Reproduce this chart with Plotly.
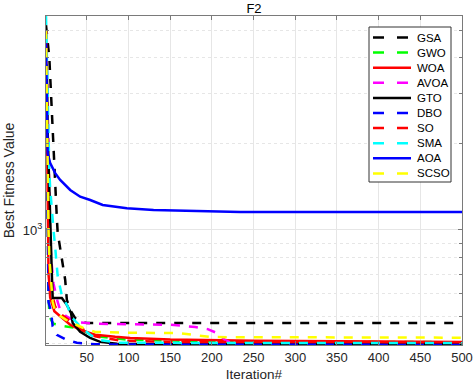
import plotly.graph_objects as go
import math

# ---------------- data ----------------
names = ["GSA", "GWO", "WOA", "AVOA", "GTO", "DBO", "SO", "SMA", "AOA", "SCSO"]
colors = ["#000000", "#00ff00", "#ff0000", "#ff00ff", "#000000",
          "#0000ff", "#ff0000", "#00ffff", "#0000ff", "#ffff00"]
dashes = ["dash", "dash", "solid", "dash", "solid",
          "dash", "dash", "dash", "solid", "dash"]

gsa_iter = [1, 5, 8, 9, 10, 11, 12, 14, 15, 18, 21, 24, 26, 30, 36, 44, 50, 500]
gsa_val = [5200, 4000, 2600, 2250, 1800, 1500, 1300, 1100, 980, 850, 760, 670, 570, 525, 492, 477, 473, 473]

gwo_iter = [1, 2, 3, 4, 5, 7, 10, 20, 35, 45, 60, 100, 200, 500]
gwo_val = [5000, 2500, 1000, 600, 510, 485, 470, 462, 455, 445, 425, 413, 408, 405]

woa_iter = [1, 2, 3, 4, 5, 6, 11, 20, 30, 42, 60, 84, 102, 150, 250, 500]
woa_val = [5000, 2000, 1000, 700, 650, 580, 520, 495, 466, 447, 430, 423, 419, 414, 410, 406]

avoa_iter = [1, 3, 4, 5, 6, 8, 10, 15, 18, 25, 38, 60, 100, 150, 180, 195, 206, 216, 228, 500]
avoa_val = [5000, 3000, 2000, 1200, 900, 750, 650, 560, 525, 500, 476, 470, 468, 466, 458, 450, 436, 412, 397, 396]

gto_iter = [1, 2, 3, 6, 8, 9, 20, 26, 31, 33, 42, 54, 66, 86, 500]
gto_val = [3800, 3700, 2200, 1000, 700, 578, 578, 547, 513, 473, 440, 419, 406, 400, 399]

dbo_iter = [1, 2, 3, 4, 7, 9, 14, 26, 38, 60, 500]
dbo_val = [5000, 1800, 620, 560, 520, 460, 430, 412, 403, 398, 397]

so_iter = [1, 2, 3, 4, 5, 8, 12, 20, 30, 45, 60, 90, 150, 500]
so_val = [5000, 3000, 1200, 800, 650, 600, 540, 505, 480, 450, 425, 410, 406, 405]

sma_iter = [1, 2, 3, 4, 5, 6, 8, 10, 12, 15, 20, 27, 32, 42, 54, 66, 90, 500]
sma_val = [5600, 3800, 2500, 1800, 1600, 1400, 1150, 1000, 870, 690, 590, 540, 495, 460, 430, 412, 403, 402]

aoa_iter = [1, 2, 3, 6, 12, 18, 30, 42, 54, 69, 98, 130, 177, 234, 500]
aoa_val = [4500, 2600, 1850, 1715, 1580, 1496, 1380, 1307, 1273, 1223, 1191, 1175, 1165, 1156, 1156]

scso_iter = [1, 2, 3, 4, 5, 7, 9, 12, 18, 25, 35, 45, 60, 100, 160, 180, 200, 500]
scso_val = [5000, 2500, 1500, 1000, 800, 660, 560, 520, 500, 485, 470, 455, 440, 437, 436, 430, 422, 420]

x_ticks = [50, 100, 150, 200, 250, 300, 350, 400, 450, 500]
y_major = [1000]
y_major_text = ["10<sup>3</sup>"]
y_minor = [400, 500, 600, 700, 800, 900, 2000, 3000, 4000, 5000]

series = [(gsa_iter, gsa_val), (gwo_iter, gwo_val), (woa_iter, woa_val),
          (avoa_iter, avoa_val), (gto_iter, gto_val), (dbo_iter, dbo_val),
          (so_iter, so_val), (sma_iter, sma_val), (aoa_iter, aoa_val),
          (scso_iter, scso_val)]

# ---------------- layout geometry (pixels) ----------------
W, H = 474, 384
PL, PR, PT, PB = 46, 462, 16, 345
def px_x(p):
    return (p - PL) / (PR - PL)
def px_y(p):
    return (PB - p) / (PB - PT)

# ---------------- figure ----------------
fig = go.Figure()
for name, color, dash, (xs, ys) in zip(names, colors, dashes, series):
    fig.add_trace(go.Scatter(
        x=xs, y=ys, mode="lines", name=name, showlegend=False,
        line=dict(color=color, width=2.5, dash=dash),
    ))

font_family = "Liberation Sans, Arial, Helvetica, sans-serif"
axis_col = "#7a7a7a"
text_col = "#262626"

fig.update_layout(
    width=W, height=H,
    margin=dict(l=PL, r=W - PR, t=PT, b=H - PB, autoexpand=False),
    paper_bgcolor="white", plot_bgcolor="white",
    font=dict(family=font_family, size=13, color=text_col),
    title=dict(text="F2", x=0.5, xref="paper", xanchor="center",
               y=1 - 8 / H, yref="container", yanchor="middle",
               automargin=False,
               font=dict(size=13, color="#000000")),
    showlegend=False,
)

fig.update_xaxes(
    range=[1, 500], tickvals=x_ticks, ticks="inside", ticklen=4,
    tickcolor=axis_col, showline=True, linecolor=axis_col, linewidth=1,
    mirror="ticks", showgrid=True, gridcolor="#e6e6e6", gridwidth=1,
    zeroline=False, tickfont=dict(size=13, color=text_col), automargin=False,
    title=dict(text="Iteration#", font=dict(size=13.5, color=text_col), standoff=5),
)

fig.update_yaxes(
    type="log", range=[math.log10(396), math.log10(5600)],
    tickmode="array", tickvals=y_major, ticktext=y_major_text,
    ticks="inside", ticklen=4, tickcolor=axis_col,
    showline=True, linecolor=axis_col, linewidth=1, mirror="ticks",
    showgrid=True, gridcolor="#e6e6e6", gridwidth=1, zeroline=False,
    tickfont=dict(size=13, color=text_col), automargin=False,
    minor=dict(tickmode="array", tickvals=y_minor, ticks="inside", ticklen=3,
               tickcolor=axis_col, showgrid=True, gridcolor="#e6e6e6",
               griddash="dot", gridwidth=1),
    title=dict(text="Best Fitness Value", font=dict(size=14, color=text_col), standoff=4),
)

# ---------------- legend box (MATLAB-style) ----------------
box_l, box_r, box_t, box_b = 369, 451, 27, 182
fig.add_shape(type="rect", xref="paper", yref="paper",
              x0=px_x(box_l), x1=px_x(box_r), y0=px_y(box_b), y1=px_y(box_t),
              line=dict(color="#333333", width=1), fillcolor="white", layer="above")
row0, row_step = 37.5, 15.1
for i, (name, color, dash) in enumerate(zip(names, colors, dashes)):
    yy = px_y(row0 + i * row_step)
    fig.add_shape(type="line", xref="paper", yref="paper",
                  x0=px_x(373), x1=px_x(411), y0=yy, y1=yy, layer="above",
                  line=dict(color=color, width=2.5,
                            dash="11px,13px" if dash == "dash" else "solid"))
    fig.add_annotation(x=px_x(415), y=yy, xref="paper", yref="paper",
                       text=name, showarrow=False, xanchor="left", yanchor="middle",
                       font=dict(size=11.5, color="#000000", family=font_family))

fig.write_html("out.html",
               config={"displayModeBar": False},
               post_script="document.body.style.margin='0';document.body.style.overflow='hidden';")
